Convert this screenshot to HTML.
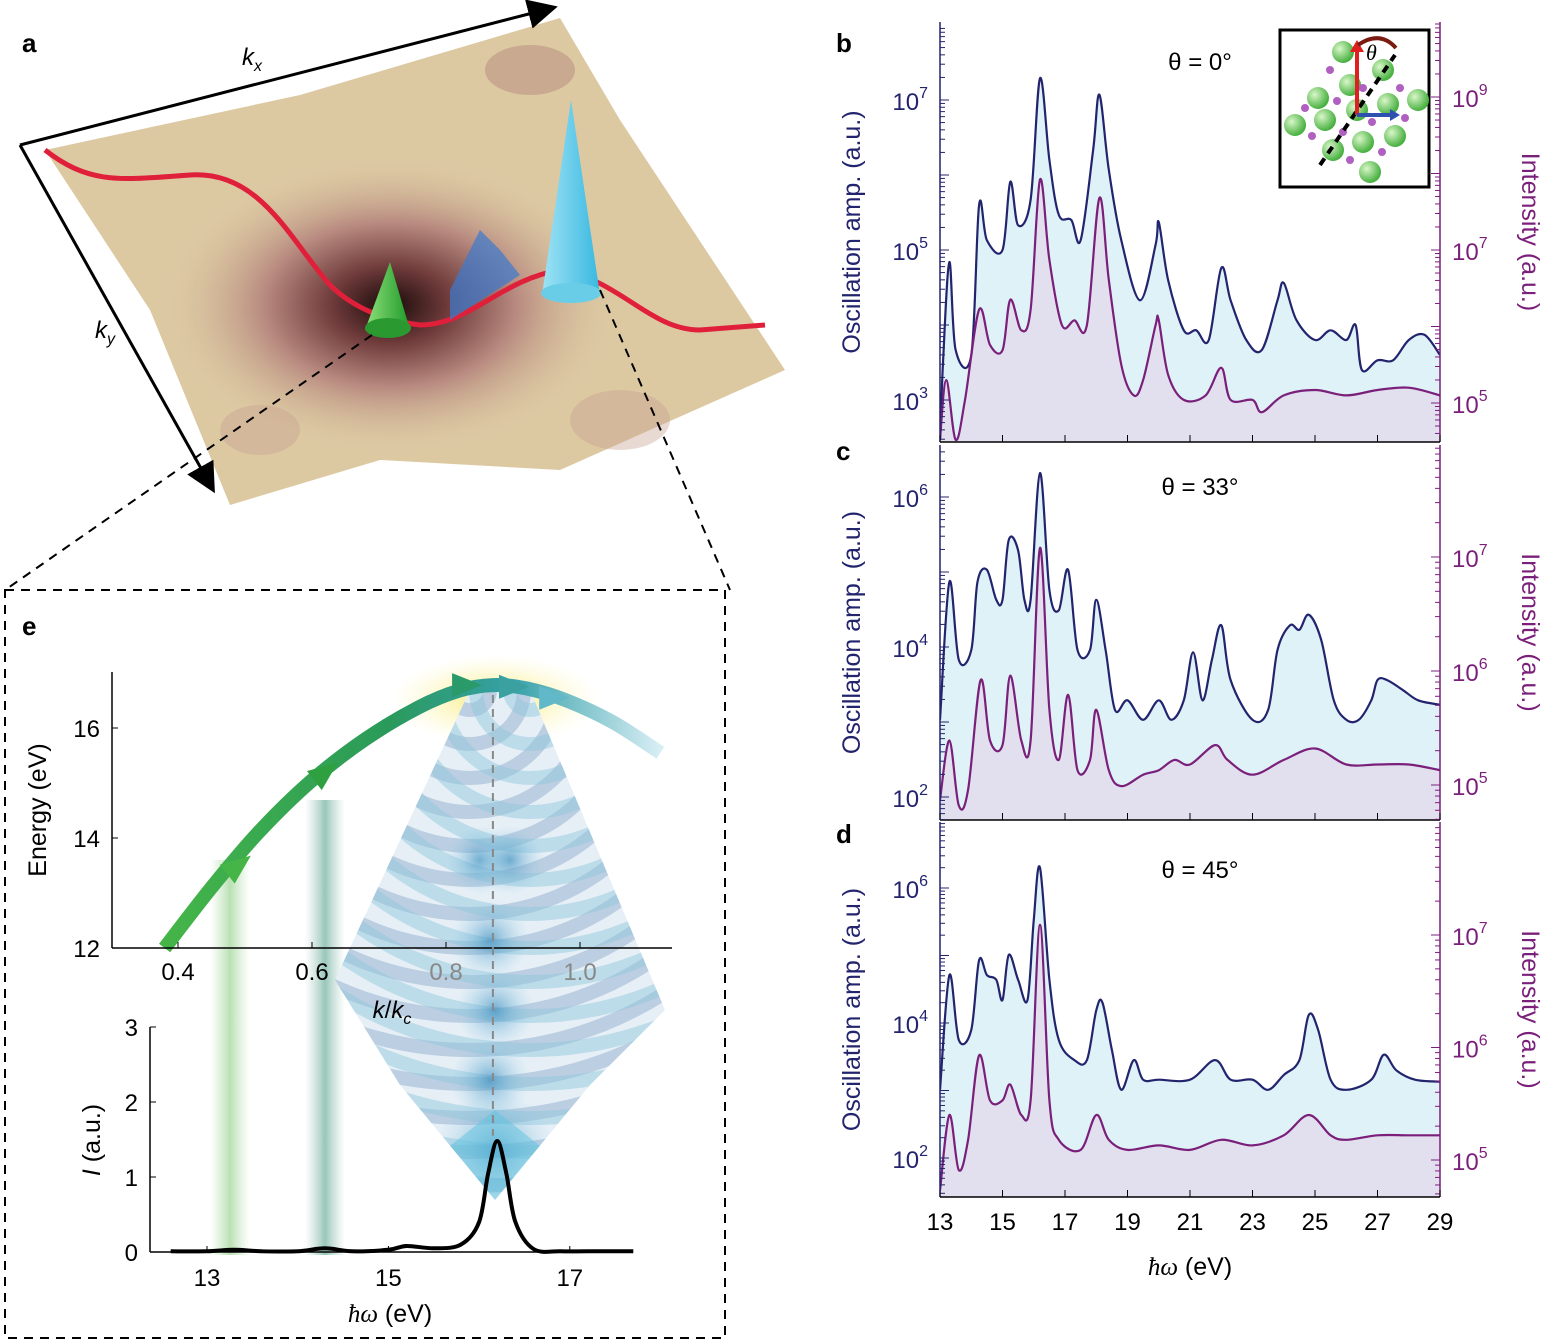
<!DOCTYPE html>
<html><head><meta charset="utf-8"><style>
html,body{margin:0;padding:0;background:#fff;}
svg{display:block;font-family:"Liberation Sans",sans-serif;}
</style></head><body>
<svg id="fig" width="1542" height="1341" viewBox="0 0 1542 1341" xmlns="http://www.w3.org/2000/svg">
<defs>
<radialGradient id="well" cx="0.5" cy="0.5" r="0.5">
<stop offset="0" stop-color="#1a0a0a"/><stop offset="0.25" stop-color="#6e3a3a"/><stop offset="0.55" stop-color="#b88a80"/><stop offset="1" stop-color="#dcc9a2" stop-opacity="0"/>
</radialGradient>
<linearGradient id="cone" x1="0" x2="1"><stop offset="0" stop-color="#9fe3f5"/><stop offset="1" stop-color="#38b8e0"/></linearGradient>
<linearGradient id="gcone" x1="0" x2="1"><stop offset="0" stop-color="#8ee07a"/><stop offset="1" stop-color="#1f9a2a"/></linearGradient>
<linearGradient id="band" x1="0" x2="1"><stop offset="0" stop-color="#45b548"/><stop offset="0.45" stop-color="#2a9a5a"/><stop offset="0.7" stop-color="#35a0a8"/><stop offset="1" stop-color="#d8eef5"/></linearGradient>
<radialGradient id="glow" cx="0.5" cy="0.5" r="0.5"><stop offset="0" stop-color="#f5ea70"/><stop offset="1" stop-color="#fff8c0" stop-opacity="0"/></radialGradient>
<radialGradient id="blob" cx="0.5" cy="0.5" r="0.5"><stop offset="0" stop-color="#3c8fc0" stop-opacity="0.7"/><stop offset="1" stop-color="#9fd4ea" stop-opacity="0"/></radialGradient>
<radialGradient id="ball" cx="0.35" cy="0.35" r="0.65"><stop offset="0" stop-color="#d8f7c8"/><stop offset="1" stop-color="#48b040"/></radialGradient>
<linearGradient id="vg" x1="0" x2="1"><stop offset="0" stop-color="#bfe3b8" stop-opacity="0"/><stop offset="0.5" stop-color="#a8d8a0" stop-opacity="0.8"/><stop offset="1" stop-color="#bfe3b8" stop-opacity="0"/></linearGradient>
<linearGradient id="vg2" x1="0" x2="1"><stop offset="0" stop-color="#a8ccc0" stop-opacity="0"/><stop offset="0.5" stop-color="#7fb8a8" stop-opacity="0.8"/><stop offset="1" stop-color="#a8ccc0" stop-opacity="0"/></linearGradient>
<clipPath id="waveclip"><polygon points="470,690 530,690 665,1010 590,1085 495,1200 400,1085 335,980"/></clipPath>
<marker id="ah" markerWidth="10" markerHeight="10" refX="8" refY="5" orient="auto"><path d="M0,0 L10,5 L0,10 z" fill="#000"/></marker>
</defs>

<!-- Panel a -->
<g>
<text x="22" y="52" font-size="26" font-weight="bold">a</text>
<polygon points="45,150 300,95 560,18 620,120 785,370 560,470 380,460 230,505 150,310" fill="#dcc9a2"/>
<ellipse cx="530" cy="70" rx="45" ry="25" fill="#b88a80" opacity="0.5"/>
<ellipse cx="390" cy="305" rx="230" ry="150" fill="url(#well)"/>
<ellipse cx="260" cy="430" rx="40" ry="25" fill="#c8a090" opacity="0.4"/>
<ellipse cx="620" cy="420" rx="50" ry="30" fill="#c8a090" opacity="0.4"/>
<path d="M45,150 C90,185 120,180 190,175 C260,170 290,240 330,285 C350,305 380,320 420,325 C470,325 500,280 560,270 C620,280 650,330 700,330 L765,325" fill="none" stroke="#e0203a" stroke-width="5"/>
<path d="M450,290 L480,230 L500,250 L520,275 L450,320 z" fill="#3a7ad0" opacity="0.7"/>
<polygon points="390,262 410,330 365,330" fill="url(#gcone)"/>
<ellipse cx="388" cy="328" rx="23" ry="10" fill="#2a9a30"/>
<polygon points="571,100 600,295 542,295" fill="url(#cone)"/>
<ellipse cx="571" cy="293" rx="30" ry="10" fill="#6acde8"/>
<line x1="20" y1="145" x2="552" y2="8" stroke="#000" stroke-width="3" marker-end="url(#ah)"/>
<line x1="20" y1="145" x2="212" y2="488" stroke="#000" stroke-width="3" marker-end="url(#ah)"/>
<text x="242" y="65" font-size="24" font-style="italic">k<tspan font-size="16" dy="6">x</tspan></text>
<text x="95" y="338" font-size="24" font-style="italic">k<tspan font-size="16" dy="6">y</tspan></text>
<line x1="372" y1="335" x2="5" y2="590" stroke="#000" stroke-width="2" stroke-dasharray="9,7"/>
<line x1="600" y1="290" x2="730" y2="590" stroke="#000" stroke-width="2" stroke-dasharray="9,7"/>
</g>

<!-- Panel e -->
<g>
<rect x="5" y="590" width="720" height="748" fill="none" stroke="#000" stroke-width="2" stroke-dasharray="9,7"/>
<text x="22" y="635" font-size="26" font-weight="bold">e</text>
<ellipse cx="495" cy="700" rx="105" ry="45" fill="url(#glow)"/>
<rect x="210" y="860" width="40" height="395" fill="url(#vg)"/>
<rect x="305" y="800" width="40" height="455" fill="url(#vg2)"/>
<g id="waves" clip-path="url(#waveclip)"></g>
<g id="eplot"></g>
</g>

<!-- Right panels -->
<g id="spectra"></g>

<!-- inset -->
<g>
<rect x="1280" y="30" width="149" height="157" fill="#fff" stroke="#000" stroke-width="3"/>
<g id="balls"></g>
<line x1="1320" y1="165" x2="1395" y2="55" stroke="#000" stroke-width="4" stroke-dasharray="8,6"/>
<line x1="1357" y1="115" x2="1357" y2="48" stroke="#e02020" stroke-width="4"/>
<polygon points="1350,52 1357,40 1364,52" fill="#e02020"/>
<line x1="1357" y1="115" x2="1392" y2="115" stroke="#3050b0" stroke-width="4"/>
<polygon points="1390,109 1400,115 1390,121" fill="#3050b0"/>
<path d="M1358,45 Q1380,30 1396,48" fill="none" stroke="#7a1a10" stroke-width="4"/>
<text x="1366" y="60" font-size="22" font-style="italic" font-family="Liberation Serif,serif">θ</text>
</g>
</svg>
<script>
const NS='http://www.w3.org/2000/svg';
function mk(p,tag,attrs,txt){const e=document.createElementNS(NS,tag);for(const k in attrs)e.setAttribute(k,attrs[k]);if(txt!==undefined)e.textContent=txt;p.appendChild(e);return e;}
function smooth(pts){let d='M'+pts[0][0].toFixed(1)+','+pts[0][1].toFixed(1);for(let i=0;i<pts.length-1;i++){const p0=pts[Math.max(0,i-1)],p1=pts[i],p2=pts[i+1],p3=pts[Math.min(pts.length-1,i+2)];const c1x=p1[0]+(p2[0]-p0[0])/6,c1y=p1[1]+(p2[1]-p0[1])/6,c2x=p2[0]-(p3[0]-p1[0])/6,c2y=p2[1]-(p3[1]-p1[1])/6;d+=` C${c1x.toFixed(1)},${c1y.toFixed(1)} ${c2x.toFixed(1)},${c2y.toFixed(1)} ${p2[0].toFixed(1)},${p2[1].toFixed(1)}`;}return d;}

// ---- Spectra data (log10 values) ----
const bBlueE=[13.0,13.1,13.3,13.5,14.0,14.25,14.5,15.0,15.25,15.5,15.9,16.2,16.5,16.8,17.2,17.5,17.9,18.1,18.4,18.8,19.4,19.9,20.0,20.3,20.8,21.2,21.6,22.0,22.3,22.8,23.3,23.8,24.0,24.4,25.0,25.5,26.0,26.3,26.5,27.0,27.5,28.0,28.5,29.0];
const bBlueV=[2.47,3.53,4.84,3.67,3.6,5.6,5.13,5.0,5.91,5.33,5.67,7.29,6.2,5.47,5.4,5.13,6.33,7.07,6.07,5.13,4.33,5.07,5.37,4.6,3.93,3.93,3.8,4.76,4.33,3.8,3.67,4.33,4.56,4.07,3.8,3.93,3.8,4.0,3.4,3.53,3.53,3.8,3.87,3.6];
const bPurpE=[13.0,13.2,13.5,13.8,14.25,14.6,15.0,15.25,15.6,15.9,16.2,16.5,16.9,17.3,17.7,18.1,18.4,18.8,19.2,19.5,19.9,20.0,20.3,20.8,21.5,22.0,22.3,23.0,23.3,24.0,25.0,26.0,27.0,28.0,29.0];
const bPurpV=[4.52,5.3,4.52,5.04,6.22,5.76,5.69,6.35,5.95,6.22,7.92,6.87,6.02,6.08,6.02,7.68,6.61,5.5,5.1,5.3,6.02,6.08,5.37,5.04,5.1,5.46,5.04,5.04,4.88,5.1,5.17,5.1,5.17,5.2,5.1];
const cBlueE=[13.0,13.3,13.6,14.0,14.2,14.5,14.8,15.0,15.2,15.5,15.7,15.9,16.2,16.5,16.8,17.1,17.4,17.8,18.0,18.3,18.6,19.0,19.5,20.0,20.4,20.8,21.1,21.4,21.7,22.0,22.3,23.0,23.5,23.8,24.2,24.5,24.8,25.2,25.6,26.0,26.4,26.8,27.0,27.3,27.8,28.3,29.0];
const cBlueV=[3.03,4.87,3.83,3.96,4.87,5.03,4.63,4.63,5.43,5.29,4.63,4.63,6.32,4.76,4.49,5.03,3.96,3.96,4.63,3.96,3.16,3.29,3.03,3.29,3.03,3.29,3.93,3.29,3.83,4.29,3.56,3.03,3.16,3.96,4.29,4.23,4.43,4.09,3.29,3.03,3.03,3.29,3.56,3.56,3.43,3.29,3.23];
const cPurpE=[13.0,13.3,13.6,13.9,14.3,14.6,15.0,15.25,15.6,15.9,16.2,16.5,16.8,17.1,17.4,17.8,18.0,18.4,18.8,19.5,20.0,20.5,21.0,21.8,22.2,23.0,24.0,25.0,26.0,27.0,28.0,29.0];
const cPurpV=[4.87,5.39,4.82,4.96,5.92,5.39,5.35,5.96,5.39,5.39,7.08,5.66,5.22,5.79,5.13,5.22,5.66,5.13,4.99,5.09,5.13,5.22,5.18,5.35,5.22,5.09,5.22,5.32,5.18,5.18,5.18,5.13];
const dBlueE=[13.0,13.3,13.6,14.0,14.25,14.5,14.8,15.0,15.2,15.5,15.8,16.0,16.2,16.5,16.8,17.3,17.7,18.0,18.2,18.5,18.8,19.2,19.5,20.0,21.0,21.8,22.3,23.0,23.5,24.0,24.5,24.8,25.1,25.5,26.0,26.8,27.2,27.6,28.2,29.0];
const dBlueV=[3.01,4.71,3.75,3.9,4.93,4.71,4.64,4.34,5.01,4.64,4.34,5.53,6.3,4.64,3.75,3.45,3.45,4.19,4.3,3.6,3.01,3.45,3.16,3.16,3.16,3.45,3.16,3.16,3.01,3.23,3.45,4.12,3.9,3.16,3.01,3.16,3.53,3.3,3.16,3.13];
const dPurpE=[13.0,13.3,13.6,13.9,14.25,14.6,15.0,15.25,15.6,15.9,16.2,16.5,16.8,17.5,18.0,18.4,19.0,20.0,21.0,22.0,23.0,24.0,24.8,25.5,26.0,27.0,28.0,29.0];
const dPurpV=[4.73,5.4,4.91,5.18,5.93,5.53,5.53,5.67,5.4,5.53,7.09,5.53,5.18,5.09,5.4,5.18,5.09,5.13,5.09,5.18,5.13,5.22,5.4,5.22,5.18,5.22,5.22,5.22];
const xTicks=[13,15,17,19,21,23,25,27,29];

const X0=940,X1=1440,E0=13,E1=29;
const xs=e=>X0+(e-E0)/(E1-E0)*(X1-X0);
const panels=[
 {id:'b',top:22,bot:442,theta:'θ = 0°',lref:7,lrefY:100,lpd:75,rref:9,rrefY:97,rpd:76.5,lt:[3,5,7],rt:[5,7,9],bE:bBlueE,bV:bBlueV,pE:bPurpE,pV:bPurpV,lab:'b',labY:52,thY:70},
 {id:'c',top:445,bot:820,theta:'θ = 33°',lref:6,lrefY:497,lpd:75,rref:7,rrefY:557,rpd:114,lt:[2,4,6],rt:[5,6,7],bE:cBlueE,bV:cBlueV,pE:cPurpE,pV:cPurpV,lab:'c',labY:460,thY:495},
 {id:'d',top:822,bot:1197,theta:'θ = 45°',lref:6,lrefY:888,lpd:67.5,rref:7,rrefY:935,rpd:112.5,lt:[2,4,6],rt:[5,6,7],bE:dBlueE,bV:dBlueV,pE:dPurpE,pV:dPurpV,lab:'d',labY:843,thY:878}
];
const S=document.getElementById('spectra');
const BLUE='#23246e',PURP='#7a1f7a';
panels.forEach(p=>{
 const g=mk(S,'g',{});
 
 
 const ly=v=>p.lrefY+(p.lref-v)*p.lpd, ry=v=>p.rrefY+(p.rref-v)*p.rpd;
 const clip=mk(g,'clipPath',{id:'clip'+p.id});mk(clip,'rect',{x:X0,y:p.top,width:X1-X0,height:p.bot-p.top});
 const cg=mk(g,'g',{'clip-path':'url(#clip'+p.id+')'});
 const bp=p.bE.map((e,i)=>[xs(e),ly(p.bV[i])]);
 const pp=p.pE.map((e,i)=>[xs(e),ry(p.pV[i])]);
 const bd=smooth(bp), pd=smooth(pp);
 const bf=mk(cg,'path',{d:bd+` L${X1},${p.bot} L${X0},${p.bot} Z`,fill:'#dff2f7'});
 
 const pf=mk(cg,'path',{d:pd+` L${X1},${p.bot} L${X0},${p.bot} Z`,fill:'#e2e0ef'});
 
 const bl=mk(cg,'path',{d:bd,fill:'none',stroke:BLUE,'stroke-width':2.2});
 
 const pl=mk(cg,'path',{d:pd,fill:'none',stroke:PURP,'stroke-width':2.2});
 
 mk(g,'line',{x1:X0,y1:p.top,x2:X0,y2:p.bot,stroke:BLUE,'stroke-width':1.5});
 mk(g,'line',{x1:X1,y1:p.top,x2:X1,y2:p.bot,stroke:PURP,'stroke-width':1.5});
 mk(g,'line',{x1:X0,y1:p.bot,x2:X1,y2:p.bot,stroke:'#000','stroke-width':1.5});
 for(let dec=-1;dec<9;dec++)for(let m=1;m<10;m++){const v=p.lref-dec-1+Math.log10(m);const y=ly(v);if(y>p.top&&y<p.bot)mk(g,'line',{x1:X0,y1:y,x2:X0+(m==1?9:5),y2:y,stroke:BLUE,'stroke-width':1});}
 for(let dec=-1;dec<9;dec++)for(let m=1;m<10;m++){const v=p.rref-dec-1+Math.log10(m);const y=ry(v);if(y>p.top&&y<p.bot)mk(g,'line',{x1:X1,y1:y,x2:X1-(m==1?9:5),y2:y,stroke:PURP,'stroke-width':1});}
 p.lt.forEach(v=>{const t=mk(g,'text',{x:928,y:ly(v)+10,'font-size':24,fill:BLUE,'text-anchor':'end'});t.innerHTML='10<tspan font-size="16" dy="-12">'+v+'</tspan>';});
 p.rt.forEach(v=>{const t=mk(g,'text',{x:1452,y:ry(v)+10,'font-size':24,fill:PURP});t.innerHTML='10<tspan font-size="16" dy="-12">'+v+'</tspan>';});
 const cy=(p.top+p.bot)/2;
 const yl=mk(g,'text',{x:0,y:0,'font-size':25,fill:BLUE,'text-anchor':'middle',transform:`translate(860,${cy}) rotate(-90)`},'Oscillation amp. (a.u.)');
 
 const yr=mk(g,'text',{x:0,y:0,'font-size':25,fill:PURP,'text-anchor':'middle',transform:`translate(1522,${cy}) rotate(90)`},'Intensity (a.u.)');
 
 const lb=mk(g,'text',{x:836,y:p.labY,'font-size':26,'font-weight':'bold'},p.lab);
 
 const th=mk(g,'text',{x:1200,y:p.thY,'font-size':24,'text-anchor':'middle'},p.theta);
 
 xTicks.forEach(t=>mk(g,'line',{x1:xs(t),y1:p.bot,x2:xs(t),y2:p.bot-7,stroke:'#000'}));
});
xTicks.forEach(t=>{const e=mk(S,'text',{x:xs(t),y:1230,'font-size':24,'text-anchor':'middle'},String(t));});
const xt=mk(S,'text',{x:1190,y:1275,'font-size':25,'text-anchor':'middle'});

xt.innerHTML='<tspan font-style="italic" font-family="Liberation Serif,serif">ħω</tspan> (eV)';

const B=document.getElementById('balls');
[[1343,52],[1318,98],[1350,85],[1383,70],[1295,125],[1325,120],[1357,110],[1388,104],[1418,100],[1333,150],[1363,142],[1395,136],[1370,172]].forEach(c=>mk(B,'circle',{cx:c[0],cy:c[1],r:11,fill:'url(#ball)'}));
[[1330,70],[1363,88],[1400,88],[1305,108],[1337,101],[1372,122],[1405,118],[1312,136],[1343,132],[1382,152],[1350,160]].forEach(c=>mk(B,'circle',{cx:c[0],cy:c[1],r:4,fill:'#b060c0'}));

// ---- Panel e plots ----
const bandK=[0.38,0.45,0.52,0.6,0.68,0.76,0.82,0.87,0.92,0.98,1.05,1.12];
const bandE=[12.0,13.1,14.1,15.05,15.8,16.38,16.68,16.78,16.72,16.5,16.1,15.55];
const kTicks=[0.4,0.6,0.8,1.0];
const enTicks=[12,14,16];
const specE=[12.6,13.0,13.3,13.6,14.0,14.3,14.6,15.0,15.2,15.5,15.8,16.0,16.1,16.2,16.3,16.4,16.6,16.9,17.2,17.7];
const specI=[0.01,0.01,0.03,0.01,0.01,0.05,0.01,0.03,0.08,0.05,0.1,0.4,1.05,1.48,1.05,0.4,0.04,0.01,0.01,0.01];
const wTicks=[13,15,17];
const iTicks=[0,1,2,3];
const P=document.getElementById('eplot');
const kx=k=>178+(k-0.4)/0.2*134, ey=e=>948-(e-12)*55;
const wx=w=>207+(w-13)*90.7, iy=i=>1252-i*75;
// waves (clipped to kite)
const W=document.getElementById('waves');
mk(W,'rect',{x:330,y:690,width:340,height:520,fill:'#e6eff6'});
[[470,690,'#8aa6c8'],[530,690,'#8cc6dc']].forEach(c=>{for(let r=20;r<560;r+=34){mk(W,'circle',{cx:c[0],cy:c[1],r:r,fill:'none',stroke:c[2],'stroke-width':14,opacity:0.45});}});
[[495,1150,60],[490,1080,40],[495,1010,40],[490,940,40],[480,860,35],[510,860,35]].forEach(c=>mk(W,'circle',{cx:c[0],cy:c[1],r:c[2],fill:'url(#blob)'}));
mk(W,'polygon',{points:'495,1110 545,1150 495,1200 445,1150',fill:'#5fc4e0',opacity:0.5});
const bandPts=bandK.map((k,i)=>[kx(k),ey(bandE[i])]);
const bl=mk(P,'path',{d:smooth(bandPts),fill:'none',stroke:'url(#band)','stroke-width':14,'stroke-linecap':'butt'});

[[0.49,13.5,'#45b548'],[0.62,15.2,'#2fa040'],[0.83,16.78,'#2a9a6a'],[0.9,16.75,'#3aa0a0'],[0.96,16.55,'#60b8c8']].forEach(a=>{const x=kx(a[0]),y=ey(a[1]);mk(P,'polygon',{points:`${x-14},${y-12} ${x+16},${y} ${x-14},${y+12}`,fill:a[2],transform:`rotate(${a[0]<0.8?-38:0} ${x} ${y})`});});
mk(P,'line',{x1:112,y1:672,x2:112,y2:948,stroke:'#000','stroke-width':1.5});
mk(P,'line',{x1:112,y1:948,x2:672,y2:948,stroke:'#000','stroke-width':1.5});
enTicks.forEach(e=>{mk(P,'line',{x1:112,y1:ey(e),x2:118,y2:ey(e),stroke:'#000'});const t=mk(P,'text',{x:100,y:ey(e)+9,'font-size':24,'text-anchor':'end'},String(e));});
kTicks.forEach(k=>{mk(P,'line',{x1:kx(k),y1:948,x2:kx(k),y2:942,stroke:'#000'});const t=mk(P,'text',{x:kx(k),y:980,'font-size':24,'text-anchor':'middle',fill:k>0.7?'#888':'#000'},k.toFixed(1));});
const et=mk(P,'text',{x:0,y:0,'font-size':25,'text-anchor':'middle',transform:'translate(46,810) rotate(-90)'},'Energy (eV)');

const kt=mk(P,'text',{x:392,y:1018,'font-size':24,'text-anchor':'middle'});

kt.innerHTML='<tspan font-style="italic">k</tspan>/<tspan font-style="italic">k</tspan><tspan font-size="16" dy="6" font-style="italic">c</tspan>';
mk(P,'line',{x1:kx(0.87),y1:ey(16.6),x2:kx(0.87),y2:iy(1.55),stroke:'#888','stroke-width':2,'stroke-dasharray':'8,6'});
mk(P,'line',{x1:150,y1:1027,x2:150,y2:1252,stroke:'#000','stroke-width':1.5});
mk(P,'line',{x1:150,y1:1252,x2:632,y2:1252,stroke:'#000','stroke-width':1.5});
iTicks.forEach(i=>{mk(P,'line',{x1:150,y1:iy(i),x2:156,y2:iy(i),stroke:'#000'});const t=mk(P,'text',{x:138,y:iy(i)+9,'font-size':24,'text-anchor':'end'},String(i));});
wTicks.forEach(w=>{mk(P,'line',{x1:wx(w),y1:1252,x2:wx(w),y2:1246,stroke:'#000'});const t=mk(P,'text',{x:wx(w),y:1286,'font-size':24,'text-anchor':'middle'},String(w));});
const sp=mk(P,'path',{d:smooth(specE.map((e,i)=>[wx(e),iy(specI[i])])),fill:'none',stroke:'#000','stroke-width':4});

const it=mk(P,'text',{x:0,y:0,'font-size':25,'text-anchor':'middle',transform:'translate(100,1140) rotate(-90)'});

it.innerHTML='<tspan font-style="italic">I</tspan> (a.u.)';
const wt=mk(P,'text',{x:390,y:1322,'font-size':25,'text-anchor':'middle'});

wt.innerHTML='<tspan font-style="italic" font-family="Liberation Serif,serif">ħω</tspan> (eV)';
</script>
</body></html>
